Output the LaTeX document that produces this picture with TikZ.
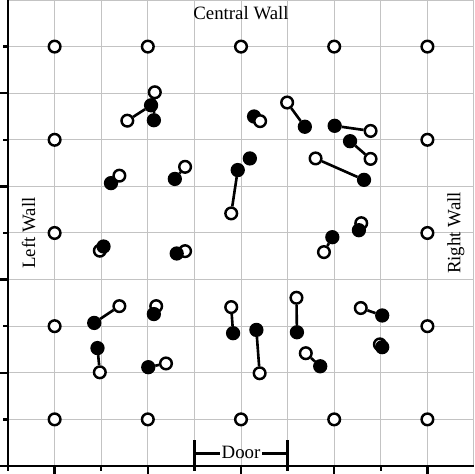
\documentclass[tikz,border=0pt]{standalone}
\usepackage{fontspec}
\setmainfont{Liberation Serif}
\usetikzlibrary{positioning}
\definecolor{gridgray}{RGB}{195,195,195}

\begin{document}
\begin{tikzpicture}[
    opendot/.style={circle, draw, line width=1.5pt, fill=white, inner sep=0pt, minimum size=7.1pt},
    filldot/.style={circle, draw, fill=black, line width=1.2pt, inner sep=0pt, minimum size=7.5pt},
    link/.style={line width=1.6pt},
    gridline/.style={gridgray, line width=0.6pt},
    axis/.style={line width=1.5pt},
    walltext/.style={font=\fontsize{11.5}{13}\selectfont, inner sep=1pt}
]
\useasboundingbox (-0.172,-0.172) rectangle (10,10);

% Grid
\draw[gridline] (0,0) grid (10,10);

% Axes
\draw[axis] (0,10) -- (0,0) -- (10,0);
\foreach \i in {0,2,4,6,8} \draw[axis] (0,\i) -- ++(-0.18,0);
\foreach \i in {1,3,5,7,9} \draw[axis] (0,\i) -- ++(-0.1,0);
\foreach \i in {1,3,5,7,9} \draw[axis] (\i,0) -- ++(0,-0.18);
\foreach \i in {0,2,4,6,8} \draw[axis] (\i,0) -- ++(0,-0.1);

% Walls
\node[walltext] (central) at (5,9.72) {Central Wall};
\node[walltext, rotate=90] (leftwall) at (0.44,5) {Left Wall};
\node[walltext, rotate=90] (rightwall) at (9.61,5) {Right Wall};

% Door
\node[walltext] (door) at (5,0.30) {Door};
\coordinate (doorL) at (4,0.27);
\coordinate (doorR) at (6,0.27);
\draw[axis] (doorL) -- (doorL -| door.west);
\draw[axis] (doorR -| door.east) -- (doorR);
\draw[axis] ([yshift=0.28cm]doorL) -- ([yshift=-0.29cm]doorL);
\draw[axis] ([yshift=0.28cm]doorR) -- ([yshift=-0.29cm]doorR);

% Reference positions
\foreach \x in {1,3,5,7,9} {
    \node[opendot] (ref\x-9) at (\x,9) {};
    \node[opendot] (ref\x-1) at (\x,1) {};
}
\foreach \y in {3,5,7} {
    \node[opendot] (ref1-\y) at (1,\y) {};
    \node[opendot] (ref9-\y) at (9,\y) {};
}

% Estimated positions
\node[opendot] (o1) at (2.56,7.41) {};
\node[filldot] (f1) at (3.07,7.74) {};
\node[opendot] (o2) at (3.15,8.02) {};
\node[filldot] (f2) at (3.13,7.42) {};
\node[filldot] (f3) at (2.21,6.07) {};
\node[opendot] (o3) at (2.39,6.23) {};
\node[filldot] (f4) at (3.58,6.16) {};
\node[opendot] (o4) at (3.80,6.42) {};
\node[filldot] (f5) at (4.93,6.35) {};
\node[opendot] (o5) at (4.79,5.42) {};
\node[filldot] (f6) at (5.19,6.60) {};
\node[filldot] (f7) at (5.28,7.50) {};
\node[opendot] (o7) at (5.41,7.40) {};
\node[opendot] (o8) at (5.99,7.80) {};
\node[filldot] (f8) at (6.37,7.28) {};
\node[filldot] (f9) at (7.01,7.30) {};
\node[opendot] (o9) at (7.78,7.19) {};
\node[filldot] (f10) at (7.34,6.97) {};
\node[opendot] (o10) at (7.78,6.59) {};
\node[opendot] (o11) at (6.60,6.60) {};
\node[filldot] (f11) at (7.64,6.14) {};
\node[opendot] (o12) at (7.58,5.21) {};
\node[filldot] (f12) at (7.53,5.06) {};
\node[filldot] (f13) at (6.96,4.91) {};
\node[opendot] (o13) at (6.78,4.59) {};
\node[opendot] (o14) at (1.97,4.62) {};
\node[filldot] (f14) at (2.05,4.71) {};
\node[opendot] (o15) at (3.80,4.61) {};
\node[filldot] (f15) at (3.62,4.56) {};
\node[filldot] (f16) at (1.85,3.07) {};
\node[opendot] (o16) at (2.39,3.43) {};
\node[opendot] (o17) at (3.18,3.43) {};
\node[filldot] (f17) at (3.13,3.26) {};
\node[opendot] (o18) at (4.79,3.41) {};
\node[filldot] (f18) at (4.83,2.85) {};
\node[filldot] (f19) at (1.92,2.53) {};
\node[opendot] (o19) at (1.97,2.01) {};
\node[filldot] (f20) at (3.01,2.12) {};
\node[opendot] (o20) at (3.39,2.20) {};
\node[filldot] (f21) at (5.33,2.92) {};
\node[opendot] (o21) at (5.40,1.99) {};
\node[opendot] (o22) at (6.19,3.61) {};
\node[filldot] (f22) at (6.20,2.87) {};
\node[opendot] (o23) at (6.39,2.42) {};
\node[filldot] (f23) at (6.70,2.14) {};
\node[opendot] (o24) at (7.57,3.39) {};
\node[filldot] (f24) at (8.03,3.23) {};
\node[opendot] (o25) at (7.98,2.61) {};
\node[filldot] (f25) at (8.03,2.55) {};

% Error links
\draw[link] (o1) -- (f1);
\draw[link] (o2) -- (f2);
\draw[link] (f4) -- (o4);
\draw[link] (f5) -- (o5);
\draw[link] (o8) -- (f8);
\draw[link] (f9) -- (o9);
\draw[link] (f10) -- (o10);
\draw[link] (o11) -- (f11);
\draw[link] (f13) -- (o13);
\draw[link] (f16) -- (o16);
\draw[link] (o18) -- (f18);
\draw[link] (f19) -- (o19);
\draw[link] (f20) -- (o20);
\draw[link] (f21) -- (o21);
\draw[link] (o22) -- (f22);
\draw[link] (o23) -- (f23);
\draw[link] (o24) -- (f24);

\end{tikzpicture}
\end{document}
